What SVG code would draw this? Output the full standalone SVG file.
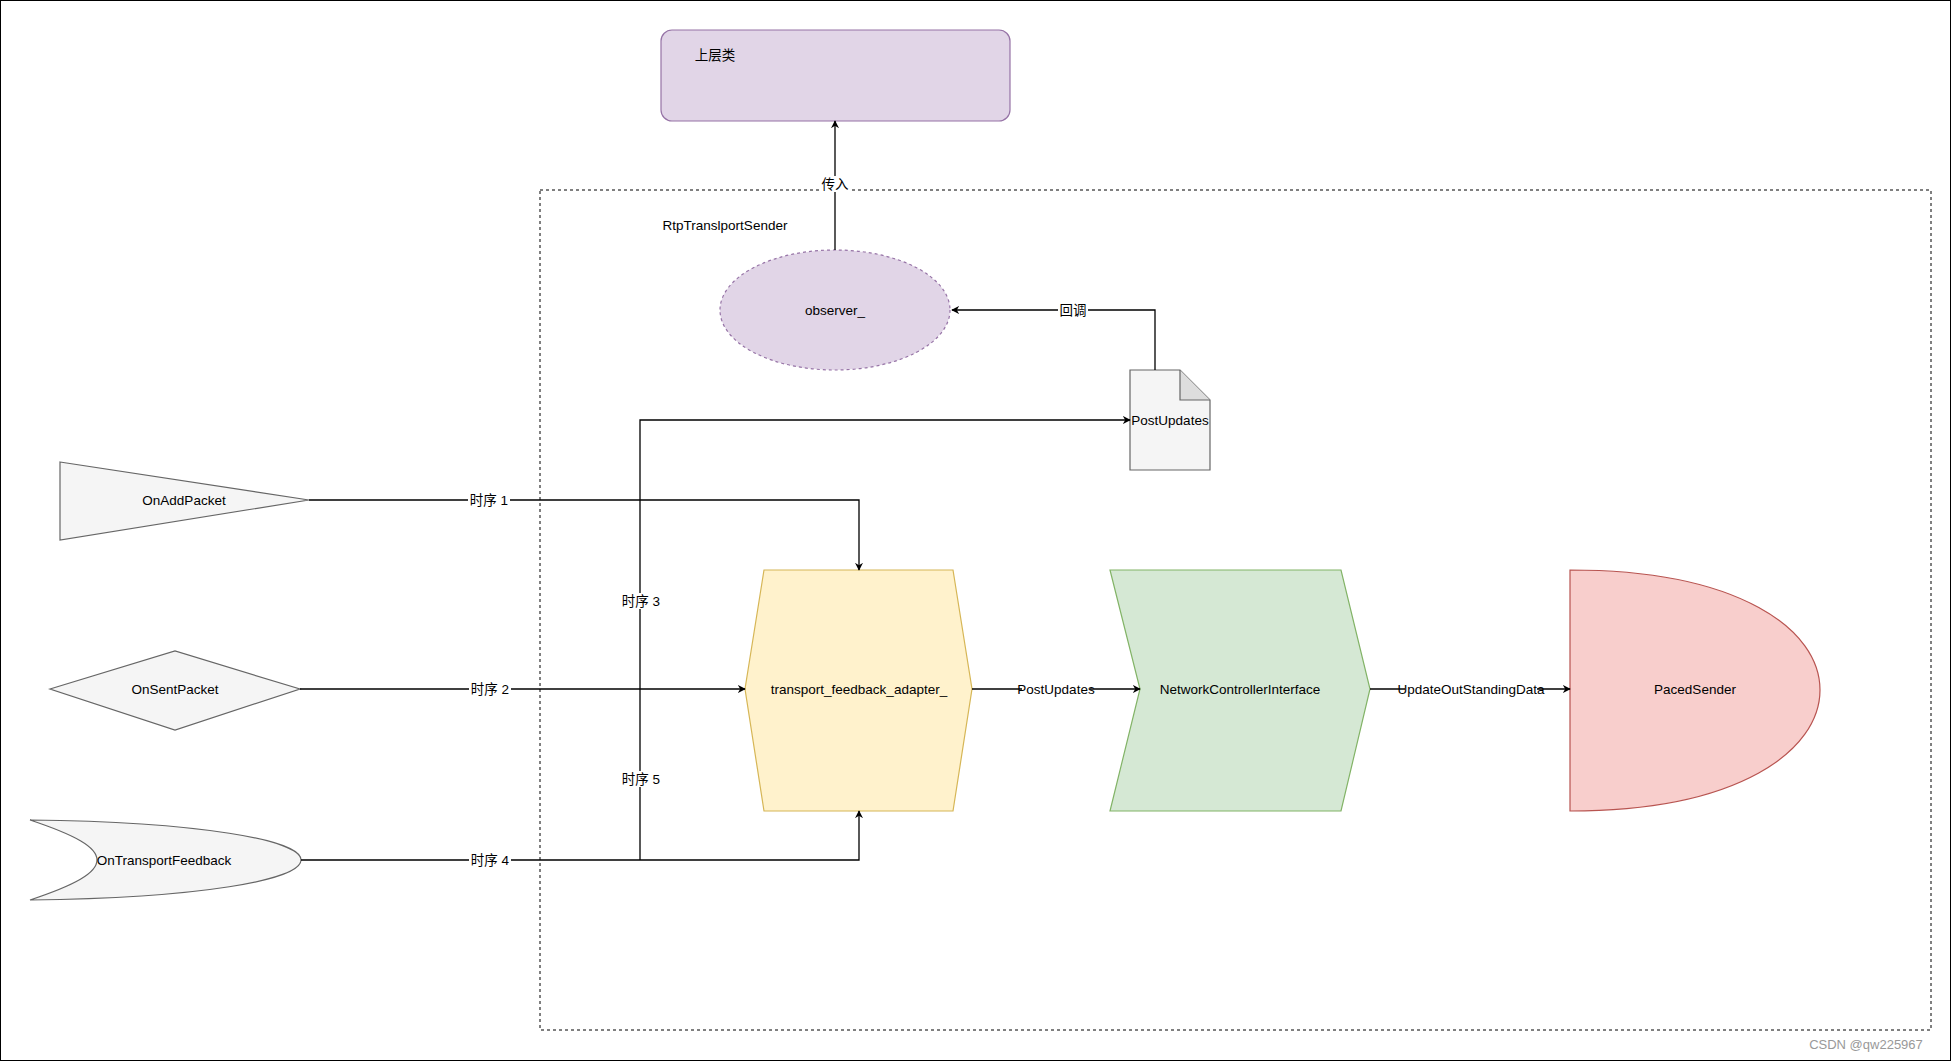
<svg xmlns="http://www.w3.org/2000/svg" width="1951" height="1061" viewBox="0 0 1951 1061">
<defs>
<marker id="arr" viewBox="0 0 10 10" refX="9" refY="5" markerWidth="8" markerHeight="8" orient="auto" markerUnits="userSpaceOnUse"><path d="M0,0 L10,5 L0,10 L3,5 Z" fill="#000"/></marker>
<style>
text{font-family:"Liberation Sans","Noto Sans CJK SC",sans-serif;font-size:13.5px;fill:#000;text-anchor:middle;dominant-baseline:central}
.gray{fill:#f5f5f5;stroke:#666;stroke-width:1.2}
.e{fill:none;stroke:#000;stroke-width:1.3}
.lbl{fill:#fff}
</style>
</defs>
<rect x="0.5" y="0.5" width="1950" height="1060" fill="#fff" stroke="#000"/>
<g id="container"><rect x="540" y="190" width="1391" height="840" fill="none" stroke="#000" stroke-dasharray="3,3"/><text x="725" y="225">RtpTranslportSender</text></g>
<g id="upper"><rect x="661" y="30" width="349" height="91" rx="11" fill="#e1d5e7" stroke="#9673a6" stroke-width="1.2"/><text x="715" y="55">上层类</text></g>
<g id="observer"><ellipse cx="835" cy="310" rx="115" ry="60" fill="#e1d5e7" stroke="#9673a6" stroke-width="1.2" stroke-dasharray="3,3"/><text x="835" y="310">observer_</text></g>
<g id="postupdates-doc"><path class="gray" d="M1130,370 H1180 L1210,400 V470 H1130 Z"/><path d="M1180,370 V400 H1210" fill="#ddd" stroke="#666" stroke-width="1.2"/><text x="1170" y="420">PostUpdates</text></g>
<g id="onaddpacket"><polygon class="gray" points="60,462 309,500 60,540"/><text x="184" y="500">OnAddPacket</text></g>
<g id="onsentpacket"><polygon class="gray" points="50,689 175,651 300,689 175,730"/><text x="175" y="689">OnSentPacket</text></g>
<g id="ontransportfeedback"><path class="gray" d="M30,820 C200,822 301,840 301,860 C301,880 200,898 30,900 C75,885 97,873 97,860 C97,847 75,835 30,820 Z"/><text x="164" y="860">OnTransportFeedback</text></g>
<g id="adapter"><polygon points="764,570 953,570 972,689 953,811 764,811 745,689" fill="#fff2cc" stroke="#d6b656" stroke-width="1.2"/><text x="859" y="689">transport_feedback_adapter_</text></g>
<g id="network"><polygon points="1110,570 1341,570 1370,689 1341,811 1110,811 1140,689" fill="#d5e8d4" stroke="#82b366" stroke-width="1.2"/><text x="1240" y="689">NetworkControllerInterface</text></g>
<g id="paced"><path d="M1570,570 C1740,570 1820,630 1820,690 C1820,750 1740,811 1570,811 Z" fill="#f8cecc" stroke="#b85450" stroke-width="1.2"/><text x="1695" y="689">PacedSender</text></g>
<g id="connectors">
<path class="e" d="M835,250 V121" marker-end="url(#arr)"/>
<rect class="lbl" x="820" y="176" width="30" height="16"/><text x="835" y="184">传入</text>
<path class="e" d="M1155,370 V310 H952" marker-end="url(#arr)"/>
<rect class="lbl" x="1058" y="302" width="30" height="16"/><text x="1073" y="310">回调</text>
<path class="e" d="M640,860 V420 H1130" marker-end="url(#arr)" stroke-width="1"/>
<rect class="lbl" x="620" y="593" width="42" height="16"/><text x="641" y="601">时序 3</text>
<rect class="lbl" x="620" y="771" width="42" height="16"/><text x="641" y="779">时序 5</text>
<path class="e" d="M309,500 H859 V570" marker-end="url(#arr)"/>
<rect class="lbl" x="468" y="492" width="42" height="16"/><text x="489" y="500">时序 1</text>
<path class="e" d="M300,689 H745" marker-end="url(#arr)"/>
<rect class="lbl" x="469" y="681" width="42" height="16"/><text x="490" y="689">时序 2</text>
<path class="e" d="M301,860 H859 V811" marker-end="url(#arr)"/>
<rect class="lbl" x="469" y="852" width="42" height="16"/><text x="490" y="860">时序 4</text>
<path class="e" d="M972,689 H1140" marker-end="url(#arr)"/>
<rect class="lbl" x="1022" y="681" width="68" height="16"/><text x="1056" y="689">PostUpdates</text>
<path class="e" d="M1370,689 H1570" marker-end="url(#arr)"/>
<rect class="lbl" x="1405" y="681" width="132" height="16"/><text x="1471" y="689">UpdateOutStandingData</text>
</g>
<text x="1866" y="1044" style="fill:#999;font-size:13px">CSDN @qw225967</text>
</svg>
